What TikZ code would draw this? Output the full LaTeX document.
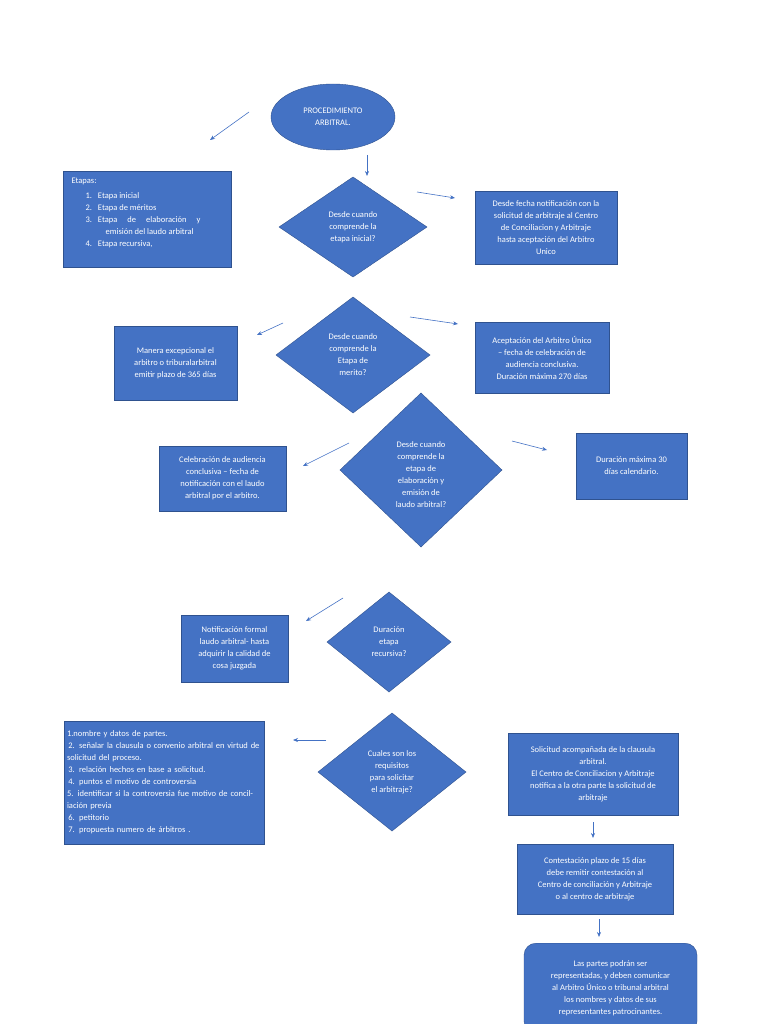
\documentclass[tikz,border=0pt]{standalone}
\usepackage{fontspec}
\setmainfont{Carlito}
\usetikzlibrary{shapes.geometric,arrows.meta}
\definecolor{bfill}{HTML}{4472C4}
\definecolor{bline}{HTML}{2F528F}
\begin{document}
\begin{tikzpicture}[x=1pt,y=-1pt,
  box/.style={draw=bline,fill=bfill,text=white,font=\fontsize{8.5}{12}\selectfont,align=center,inner sep=2pt},
  arr/.style={draw=bfill,-{Stealth[length=5pt,width=4pt]},line width=0.6pt}]
\useasboundingbox (0,0) rectangle (768,1024);
\begin{scope}
\clip (0,0) rectangle (768,1024);
% shapes
\draw[box] (333,117) ellipse (62 and 33);
\node[font=\fontsize{8.5}{12}\selectfont,text=white,align=center] (e) at (333,117) {PROCEDIMIENTO\\ARBITRAL.};
\draw[box] (63,171) rectangle (231,267);
\node[text=white,font=\fontsize{8.5}{12}\selectfont,align=left,anchor=north west] (et) at (68,175) {Etapas:\\[3pt]
\hspace*{14pt}1.\hspace{6pt}Etapa inicial\\
\hspace*{14pt}2.\hspace{6pt}Etapa de méritos\\
\hspace*{14pt}3.\hspace{6pt}Etapa\hspace{10pt}de\hspace{10pt}elaboración\hspace{10pt}y\\
\hspace*{34pt}emisión del laudo arbitral\\
\hspace*{14pt}4.\hspace{6pt}Etapa recursiva,};
% diamonds
\draw[box] (353,177) -- (427,227) -- (353,277) -- (279,227) -- cycle;
\node[text=white,font=\fontsize{8.5}{12}\selectfont,align=center] (d1) at (353,227) {Desde cuando\\comprende la\\etapa inicial?};
\draw[box] (353,297) -- (430,355) -- (353,413) -- (276,355) -- cycle;
\node[text=white,font=\fontsize{8.5}{12}\selectfont,align=center] (d2) at (353,355) {Desde cuando\\comprende la\\Etapa de\\merito?};
\draw[box] (421,393) -- (502,470) -- (421,547) -- (340,470) -- cycle;
\node[text=white,font=\fontsize{8.5}{12}\selectfont,align=center] (d3) at (421,475) {Desde cuando\\comprende la\\etapa de\\elaboración y\\emisión de\\laudo arbitral?};
\draw[box] (389,592) -- (451,642) -- (389,692) -- (327,642) -- cycle;
\node[text=white,font=\fontsize{8.5}{12}\selectfont,align=center] (d4) at (389,642) {Duración\\etapa\\recursiva?};
\draw[box] (392,713) -- (466,772) -- (392,831) -- (318,772) -- cycle;
\node[text=white,font=\fontsize{8.5}{12}\selectfont,align=center] (d5) at (392,772) {Cuales son los\\requisitos\\para solicitar\\el arbitraje?};
% boxes
\node[box,minimum width=142pt,minimum height=73pt] (r1) at (546,227.5) {Desde fecha notificación con la\\solicitud de arbitraje al Centro\\de Conciliacion y Arbitraje\\hasta aceptación del Arbitro\\Unico};
\node[box,minimum width=123pt,minimum height=74pt] (l2) at (175.5,363) {Manera excepcional el\\arbitro o triburalarbitral\\emitir plazo de 365 días};
\node[box,minimum width=134pt,minimum height=71pt] (r2) at (542,357.5) {Aceptación del Arbitro Único\\– fecha de celebración de\\audiencia conclusiva.\\Duración máxima 270 días};
\node[box,minimum width=127pt,minimum height=65pt] (l3) at (222.5,478.5) {Celebración de audiencia\\conclusiva – fecha de\\notificación con el laudo\\arbitral por el arbitro.};
\node[box,minimum width=111pt,minimum height=66pt] (r3) at (631.5,466) {Duración máxima 30\\días calendario.};
\node[box,minimum width=107pt,minimum height=67pt] (l4) at (234.5,648.5) {Notificación formal\\laudo arbitral- hasta\\adquirir la calidad de\\cosa juzgada};
\node[box,minimum width=200pt,minimum height=123pt,align=left,text width=194pt] (l5) at (164,782.5) {1.nombre y datos de partes.\\
\,2. señalar la clausula o convenio arbitral en virtud de solicitud del proceso.\\
\,3. relación hechos en base a solicitud.\\
\,4. puntos el motivo de controversia\\
5. identificar si la controversia fue motivo de conciliación previa\\
\,6. petitorio\\
\,7. propuesta numero de árbitros .};
\node[box,minimum width=170pt,minimum height=82pt] (r5) at (593,774) {Solicitud acompañada de la clausula\\arbitral.\\El Centro de Conciliacion y Arbitraje\\notifica a la otra parte la solicitud de\\arbitraje};
\node[box,minimum width=156pt,minimum height=70pt] (r6) at (595,879) {Contestación plazo de 15 días\\debe remitir contestación al\\Centro de conciliación y Arbitraje\\o al centro de arbitraje};
\node[box,rounded corners=12pt,minimum width=173pt,minimum height=90pt,anchor=north] (r7) at (610.5,943) {Las partes podrán ser\\representadas, y deben comunicar\\al Arbitro Único o tribunal arbitral\\los nombres y datos de sus\\representantes patrocinantes.};
\end{scope}
% free arrows
\coordinate (a1) at (249,112); \coordinate (b1) at (210,140);
\coordinate (a2) at (367,155); \coordinate (b2) at (367,176);
\coordinate (a3) at (417,192); \coordinate (b3) at (455,198);
\coordinate (a4) at (283,323); \coordinate (b4) at (257,335);
\coordinate (a5) at (410,317); \coordinate (b5) at (458,324);
\coordinate (a6) at (349,443); \coordinate (b6) at (303,466);
\coordinate (a7) at (512,441); \coordinate (b7) at (547,450);
\coordinate (a8) at (343,598); \coordinate (b8) at (306,621);
\coordinate (a9) at (326,740); \coordinate (b9) at (293,740);
\coordinate (a10) at (593,822); \coordinate (b10) at (593,838);
\coordinate (a11) at (599,919); \coordinate (b11) at (599,937);
\foreach \i in {1,...,11} \draw[arr] (a\i) -- (b\i);
\end{tikzpicture}
\end{document}
